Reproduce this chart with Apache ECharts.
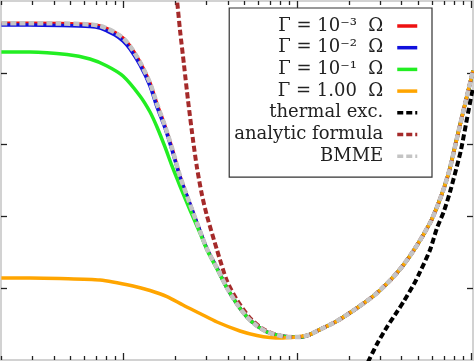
<!DOCTYPE html>
<html>
<head>
<meta charset="utf-8">
<script src="https://cdn.jsdelivr.net/npm/echarts@6/dist/echarts.min.js"></script>
<style>
html,body{margin:0;padding:0;background:#fff;}
#chart{width:474px;height:361px;}
</style>
</head>
<body>
<div id="chart"></div>
<script>
// ---- data (x on log scale, y on linear scale; tick labels are cropped off in the reference) ----
const seriesNames = ['Γ = 10⁻³  Ω', 'Γ = 10⁻²  Ω', 'Γ = 10⁻¹  Ω', 'Γ = 1.00  Ω', 'thermal exc.', 'analytic formula', 'BMME'];

const gammaE3 = [[0.2,4.69],[0.292,4.69],[0.434,4.687],[0.646,4.673],[0.738,4.652],[0.809,4.617],[0.9,4.561],[1.0,4.485],[1.097,4.373],[1.252,4.15],[1.43,3.858],[1.568,3.565],[1.743,3.259],[1.912,2.953],[2.126,2.563],[2.427,2.173],[2.77,1.797],[3.039,1.546],[3.47,1.281],[3.96,1.003],[4.521,0.78],[5.16,0.599],[5.89,0.474],[6.724,0.39],[7.675,0.348],[9.117,0.32],[10.4,0.32],[11.88,0.355],[13.03,0.404],[16.98,0.543],[22.12,0.724],[28.83,0.933],[37.55,1.212],[47.03,1.532],[58.13,1.908],[63.77,2.131],[69.95,2.396],[75.74,2.674],[83.07,3.092],[93.6,3.621],[102.7,4.03]];

const gammaE2 = [[0.2,4.666],[0.292,4.666],[0.434,4.659],[0.646,4.645],[0.738,4.624],[0.809,4.582],[0.9,4.526],[1.0,4.443],[1.097,4.331],[1.252,4.109],[1.43,3.816],[1.568,3.524],[1.743,3.231],[1.912,2.925],[2.126,2.549],[2.427,2.173],[2.77,1.797],[3.039,1.546],[3.47,1.281],[3.96,1.003],[4.521,0.78],[5.16,0.599],[5.89,0.474],[6.724,0.39],[7.675,0.348],[9.117,0.32],[10.4,0.32],[11.88,0.355],[13.03,0.404],[16.98,0.543],[22.12,0.724],[28.83,0.933],[37.55,1.212],[47.03,1.532],[58.13,1.908],[63.77,2.131],[69.95,2.396],[75.74,2.674],[83.07,3.092],[93.6,3.621],[102.7,4.03]];

const gammaE1 = [[0.2,4.29],[0.292,4.29],[0.477,4.255],[0.646,4.192],[0.809,4.095],[1.0,3.955],[1.252,3.677],[1.43,3.454],[1.568,3.245],[1.743,2.967],[1.912,2.702],[2.126,2.423],[2.427,2.089],[2.77,1.769],[3.039,1.532],[3.47,1.267],[3.96,1.003],[4.521,0.78],[5.16,0.599],[5.89,0.474],[6.724,0.39],[7.675,0.348],[9.117,0.32],[10.4,0.32],[11.88,0.355],[13.03,0.404],[16.98,0.543],[22.12,0.724],[28.83,0.933],[37.55,1.212],[47.03,1.532],[58.13,1.908],[63.77,2.131],[69.95,2.396],[75.74,2.674],[83.07,3.092],[93.6,3.621],[102.7,4.03]];

const gammaE0 = [[0.2,1.142],[0.292,1.142],[0.434,1.135],[0.738,1.114],[1.142,1.031],[1.43,0.968],[1.79,0.884],[2.212,0.766],[2.77,0.648],[3.47,0.529],[4.702,0.404],[5.89,0.341],[6.995,0.313],[8.31,0.306],[9.117,0.313],[10.4,0.327],[11.88,0.355],[13.03,0.404],[16.98,0.543],[22.12,0.724],[28.83,0.933],[37.55,1.212],[47.03,1.532],[58.13,1.908],[63.77,2.131],[69.95,2.396],[75.74,2.674],[83.07,3.092],[93.6,3.621],[102.7,4.03]];

const thermalExc = [[25.59,-0.028],[28.83,0.223],[32.9,0.46],[37.55,0.669],[41.19,0.822],[47.03,1.058],[50.93,1.226],[58.13,1.532],[63.77,1.838],[69.95,2.075],[75.74,2.34],[83.07,2.702],[87.6,2.925],[93.6,3.287],[102.7,3.8]];

const analyticFormula = [[1.99,5.223],[2.043,5.014],[2.126,4.596],[2.242,4.109],[2.363,3.621],[2.526,3.064],[2.663,2.674],[2.844,2.298],[3.039,2.006],[3.47,1.532],[3.96,1.1],[4.521,0.836],[5.37,0.585],[6.376,0.432],[7.675,0.348],[9.117,0.32],[10.4,0.32],[11.88,0.355],[13.03,0.404],[16.98,0.543],[22.12,0.724],[28.83,0.933],[37.55,1.212],[47.03,1.532],[58.13,1.908],[63.77,2.131],[69.95,2.396],[75.74,2.674],[83.07,3.092],[93.6,3.621],[102.7,4.03]];

const bmme = [[0.2,4.69],[0.292,4.69],[0.434,4.687],[0.646,4.673],[0.738,4.652],[0.809,4.617],[0.9,4.561],[1.0,4.485],[1.097,4.373],[1.252,4.15],[1.43,3.858],[1.568,3.565],[1.743,3.259],[1.912,2.953],[2.126,2.563],[2.427,2.173],[2.77,1.797],[3.039,1.546],[3.47,1.281],[3.96,1.003],[4.521,0.78],[5.16,0.599],[5.89,0.474],[6.724,0.39],[7.675,0.348],[9.117,0.32],[10.4,0.32],[11.88,0.355],[13.03,0.404],[16.98,0.543],[22.12,0.724],[28.83,0.933],[37.55,1.212],[47.03,1.532],[58.13,1.908],[63.77,2.131],[69.95,2.396],[75.74,2.674],[83.07,3.092],[93.6,3.621],[102.7,4.03]];

const xMajorTicks = [1, 10, 100];
const xMinorTicks = [0.2,0.3,0.4,0.5,0.6,0.7,0.8,0.9,2,3,4,5,6,7,8,9,20,30,40,50,60,70,80,90];
const yMajorTicks = [1, 2, 3, 4];
const xRange = [0.199, 102.7];
const yRange = [0, 5];

// ---- chart ----
const chart = echarts.init(document.getElementById('chart'), null, {renderer: 'canvas'});
const frameColor = '#d2d2d2';
const tickColor = '#222';

function xAxisDef(pos, ticks, len, showLine) {
  return {
    type: 'log', logBase: 10, position: pos, min: xRange[0], max: xRange[1],
    axisLine: {show: showLine, onZero: false, lineStyle: {color: frameColor, width: 2}},
    axisTick: {show: true, inside: true, length: len, customValues: ticks, lineStyle: {color: tickColor, width: 1.3}},
    axisLabel: {show: false}, splitLine: {show: false}, minorTick: {show: false}
  };
}
function yAxisDef(pos) {
  return {
    type: 'value', position: pos, min: yRange[0], max: yRange[1], interval: 1,
    axisLine: {show: true, onZero: false, lineStyle: {color: frameColor, width: 2}},
    axisTick: {show: true, inside: true, length: 6, customValues: yMajorTicks, lineStyle: {color: tickColor, width: 1.3}},
    axisLabel: {show: false}, splitLine: {show: false}
  };
}

const styles = [
  {data: gammaE3, color: '#ee1111', width: 3.5, type: 'solid'},
  {data: gammaE2, color: '#1111dd', width: 3.5, type: 'solid'},
  {data: gammaE1, color: '#22ee22', width: 3.5, type: 'solid'},
  {data: gammaE0, color: '#ffa500', width: 3.5, type: 'solid'},
  {data: thermalExc, color: '#000000', width: 4, type: [6, 3]},
  {data: analyticFormula, color: '#a52a2a', width: 4, type: [6, 3]},
  {data: bmme, color: '#c4c4c4', width: 4.5, type: [6, 3]}
];

const series = styles.map((s, i) => ({
  name: seriesNames[i],
  type: 'line',
  data: s.data,
  xAxisIndex: 0, yAxisIndex: 0,
  showSymbol: false, symbol: 'none',
  smooth: 0.25,
  clip: true,
  color: s.color,
  lineStyle: {color: s.color, width: s.width, type: s.type, cap: 'butt', join: 'round'},
  emphasis: {disabled: true},
  animation: false
}));

chart.setOption({
  animation: false,
  backgroundColor: '#ffffff',
  grid: {left: 1, right: 1, top: 1, bottom: 1, containLabel: false},
  xAxis: [
    xAxisDef('bottom', xMajorTicks, 7, true),
    xAxisDef('top', xMajorTicks, 7, true),
    xAxisDef('bottom', xMinorTicks, 4, false),
    xAxisDef('top', xMinorTicks, 4, false)
  ],
  yAxis: [yAxisDef('left'), yAxisDef('right')],
  legend: {
    data: seriesNames,
    orient: 'vertical',
    align: 'right',
    right: 42, top: 8,
    padding: [8, 13, 11, 5],
    itemWidth: 20, itemHeight: 14, itemGap: 1.7,
    selectedMode: false,
    backgroundColor: '#ffffff',
    borderColor: '#333333', borderWidth: 1.2, borderRadius: 0,
    itemStyle: {color: 'transparent', borderWidth: 0, opacity: 0},
    lineStyle: {width: 3.5},
    textStyle: {fontFamily: 'DejaVu Serif', fontSize: 18, color: '#222', lineHeight: 20, padding: [0, 9, 0, 0]}
  },
  series: series
});
</script>
</body>
</html>
